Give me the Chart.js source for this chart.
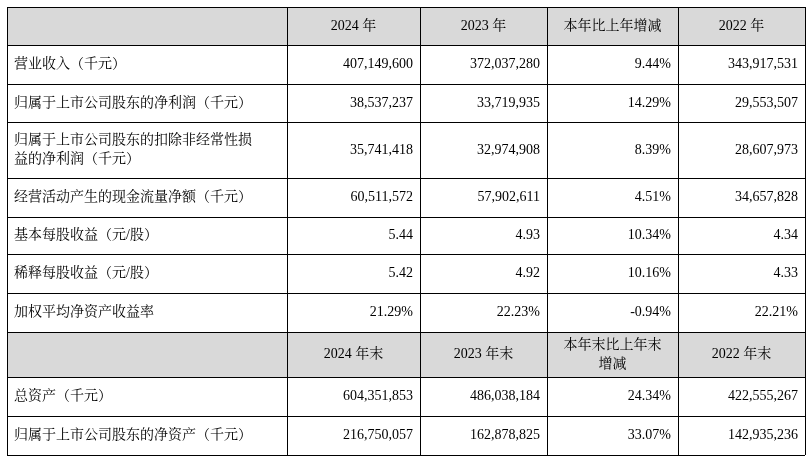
<!DOCTYPE html>
<html>
<head>
<meta charset="utf-8">
<script src="https://cdn.jsdelivr.net/npm/chart.js@4/dist/chart.umd.min.js"></script>
<style>
  html, body { margin: 0; padding: 0; background: #fff; }
  #wrap { width: 812px; height: 459px; }
</style>
</head>
<body>
<div id="wrap"><canvas id="tabla"></canvas></div>
<script>
// datos de la tabla
const headers1 = ['', '2024 年', '2023 年', '本年比上年增减', '2022 年'];
const headers2 = ['', '2024 年末', '2023 年末', '本年末比上年末\n增减', '2022 年末'];
const rowLabels = [
  '营业收入（千元）',
  '归属于上市公司股东的净利润（千元）',
  '归属于上市公司股东的扣除非经常性损\n益的净利润（千元）',
  '经营活动产生的现金流量净额（千元）',
  '基本每股收益（元/股）',
  '稀释每股收益（元/股）',
  '加权平均净资产收益率'
];
const val2024 = ['407,149,600', '38,537,237', '35,741,418', '60,511,572', '5.44', '5.42', '21.29%'];
const val2023 = ['372,037,280', '33,719,935', '32,974,908', '57,902,611', '4.93', '4.92', '22.23%'];
const cambio = ['9.44%', '14.29%', '8.39%', '4.51%', '10.34%', '10.16%', '-0.94%'];
const val2022 = ['343,917,531', '29,553,507', '28,607,973', '34,657,828', '4.34', '4.33', '22.21%'];
const rowLabels2 = ['总资产（千元）', '归属于上市公司股东的净资产（千元）'];
const fin2024 = ['604,351,853', '216,750,057'];
const fin2023 = ['486,038,184', '162,878,825'];
const cambio2 = ['24.34%', '33.07%'];
const fin2022 = ['422,555,267', '142,935,236'];

// bordes de columnas y filas
const colEdges = [7, 287, 420, 547, 678, 805];
const rowEdges = [7, 45, 84, 122, 178, 217, 254, 293, 332, 377, 416, 455];

const FONT = '14px "Liberation Serif", "Noto Serif CJK SC", "Noto Sans CJK SC", serif';

const tablePlugin = {
  id: 'tablePlugin',
  afterDraw(chart) {
    const ctx = chart.ctx;
    const xs = chart.scales.x, ys = chart.scales.y;
    const X = v => xs.getPixelForValue(v);
    const Y = v => ys.getPixelForValue(v);

    const filas = [];
    filas.push({ header: true, cells: headers1 });
    rowLabels.forEach((l, i) => filas.push({ cells: [l, val2024[i], val2023[i], cambio[i], val2022[i]] }));
    filas.push({ header: true, cells: headers2 });
    rowLabels2.forEach((l, i) => filas.push({ cells: [l, fin2024[i], fin2023[i], cambio2[i], fin2022[i]] }));

    ctx.save();
    ctx.font = FONT;
    ctx.textBaseline = 'middle';
    filas.forEach((f, r) => {
      const y0 = Y(rowEdges[r]), y1 = Y(rowEdges[r + 1]);
      if (f.header) {
        ctx.fillStyle = '#d9d9d9';
        ctx.fillRect(X(colEdges[0]), y0, X(colEdges[5]) - X(colEdges[0]), y1 - y0);
      }
      f.cells.forEach((txt, c) => {
        const x0 = X(colEdges[c]), x1 = X(colEdges[c + 1]);
        const lines = txt.split('\n');
        const lh = 19;
        ctx.fillStyle = '#000';
        lines.forEach((ln, k) => {
          const yy = (y0 + y1) / 2 + (k - (lines.length - 1) / 2) * lh;
          if (f.header) { ctx.textAlign = 'center'; ctx.fillText(ln, (x0 + x1) / 2, yy); }
          else if (c === 0) { ctx.textAlign = 'left'; ctx.fillText(ln, x0 + 7, yy); }
          else { ctx.textAlign = 'right'; ctx.fillText(ln, x1 - 7, yy); }
        });
      });
    });
    // lineas
    ctx.strokeStyle = '#000';
    ctx.lineWidth = 1;
    ctx.beginPath();
    rowEdges.forEach(v => { const y = Math.round(Y(v)) + 0.5; ctx.moveTo(X(colEdges[0]), y); ctx.lineTo(X(colEdges[5]), y); });
    colEdges.forEach(v => { const x = Math.round(X(v)) + 0.5; ctx.moveTo(x, Y(rowEdges[0])); ctx.lineTo(x, Y(rowEdges[rowEdges.length - 1])); });
    ctx.stroke();
    ctx.restore();
  }
};

new Chart('tabla', {
  type: 'scatter',
  data: { datasets: [{ data: [] }] },
  options: {
    responsive: true,
    maintainAspectRatio: false,
    animation: false,
    layout: { padding: 0 },
    plugins: { legend: { display: false }, tooltip: { enabled: false } },
    scales: {
      x: { type: 'linear', min: 0, max: 812, display: false },
      y: { type: 'linear', min: 0, max: 459, reverse: true, display: false }
    }
  },
  plugins: [tablePlugin]
});
</script>
</body>
</html>
